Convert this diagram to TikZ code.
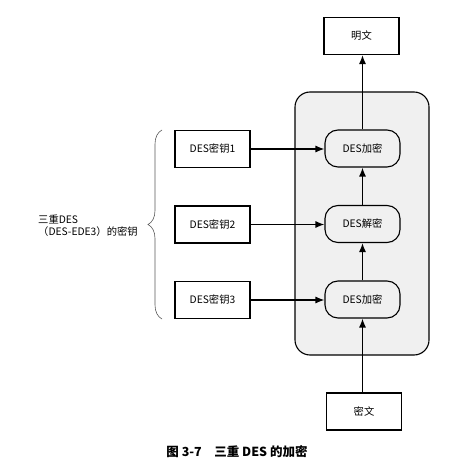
\documentclass[tikz,border=0pt]{standalone}
\usepackage{fontspec}
\setmainfont{Noto Sans CJK SC}
\usetikzlibrary{arrows.meta, decorations.pathreplacing, positioning}

\begin{document}
\begin{tikzpicture}[x=1pt, y=-1pt, font=\fontsize{10.3}{12.5}\selectfont,
    >={Latex[length=9pt, width=7pt]},
    kasten/.style={draw, line width=1.1pt, minimum width=75pt, minimum height=37pt, inner sep=0pt},
    desbox/.style={kasten, rounded corners=13pt},
    pfeil/.style={->, line width=1.2pt}]
    \useasboundingbox (0,0) rectangle (474,462);

    % 灰色底框
    \draw[line width=1.1pt, fill=gray!12, rounded corners=15pt] (295,92) rectangle (429,355);

    % 明文与密文
    \node[kasten] (klar) at (361.5,36) {明文};
    \node[kasten] (geheim) at (364,411.5) {密文};

    % 三个 DES 步骤
    \node[desbox] (enc1) at (362.5,148.5) {DES加密};
    \node[desbox] (dec2) at (362.5,224) {DES解密};
    \node[desbox] (enc3) at (362.5,299.5) {DES加密};

    % 三个密钥
    \node[kasten] (key1) at (212.5,149) {DES密钥1};
    \node[kasten] (key2) at (212.5,224.5) {DES密钥2};
    \node[kasten] (key3) at (212.5,300) {DES密钥3};

    % 连线
    \draw[pfeil] (geheim.north -| enc3) -- (enc3.south);
    \draw[pfeil] (enc3) -- (dec2);
    \draw[pfeil] (dec2) -- (enc1);
    \draw[pfeil] (enc1) -- (klar.south -| enc1);
    \foreach \k/\d in {key1/enc1, key2/dec2, key3/enc3} {
        \draw[pfeil] (\k.east) -- (\k.east -| \d.west);
    }

    % 大括号与说明
    \draw[gray!70!black, line width=0.6pt, decorate, decoration={brace, amplitude=14pt}]
        (162,319) -- (162,130);
    \node[align=left, anchor=west, inner sep=0pt] (keylabel) at (38,225.5)
        {三重DES\\（DES-EDE3）的密钥};

    % 图题
    \node[font=\fontsize{12.5}{14}\selectfont\bfseries] (caption) at (237,451.5) {图 3-7\quad 三重 DES 的加密};
\end{tikzpicture}
\end{document}
